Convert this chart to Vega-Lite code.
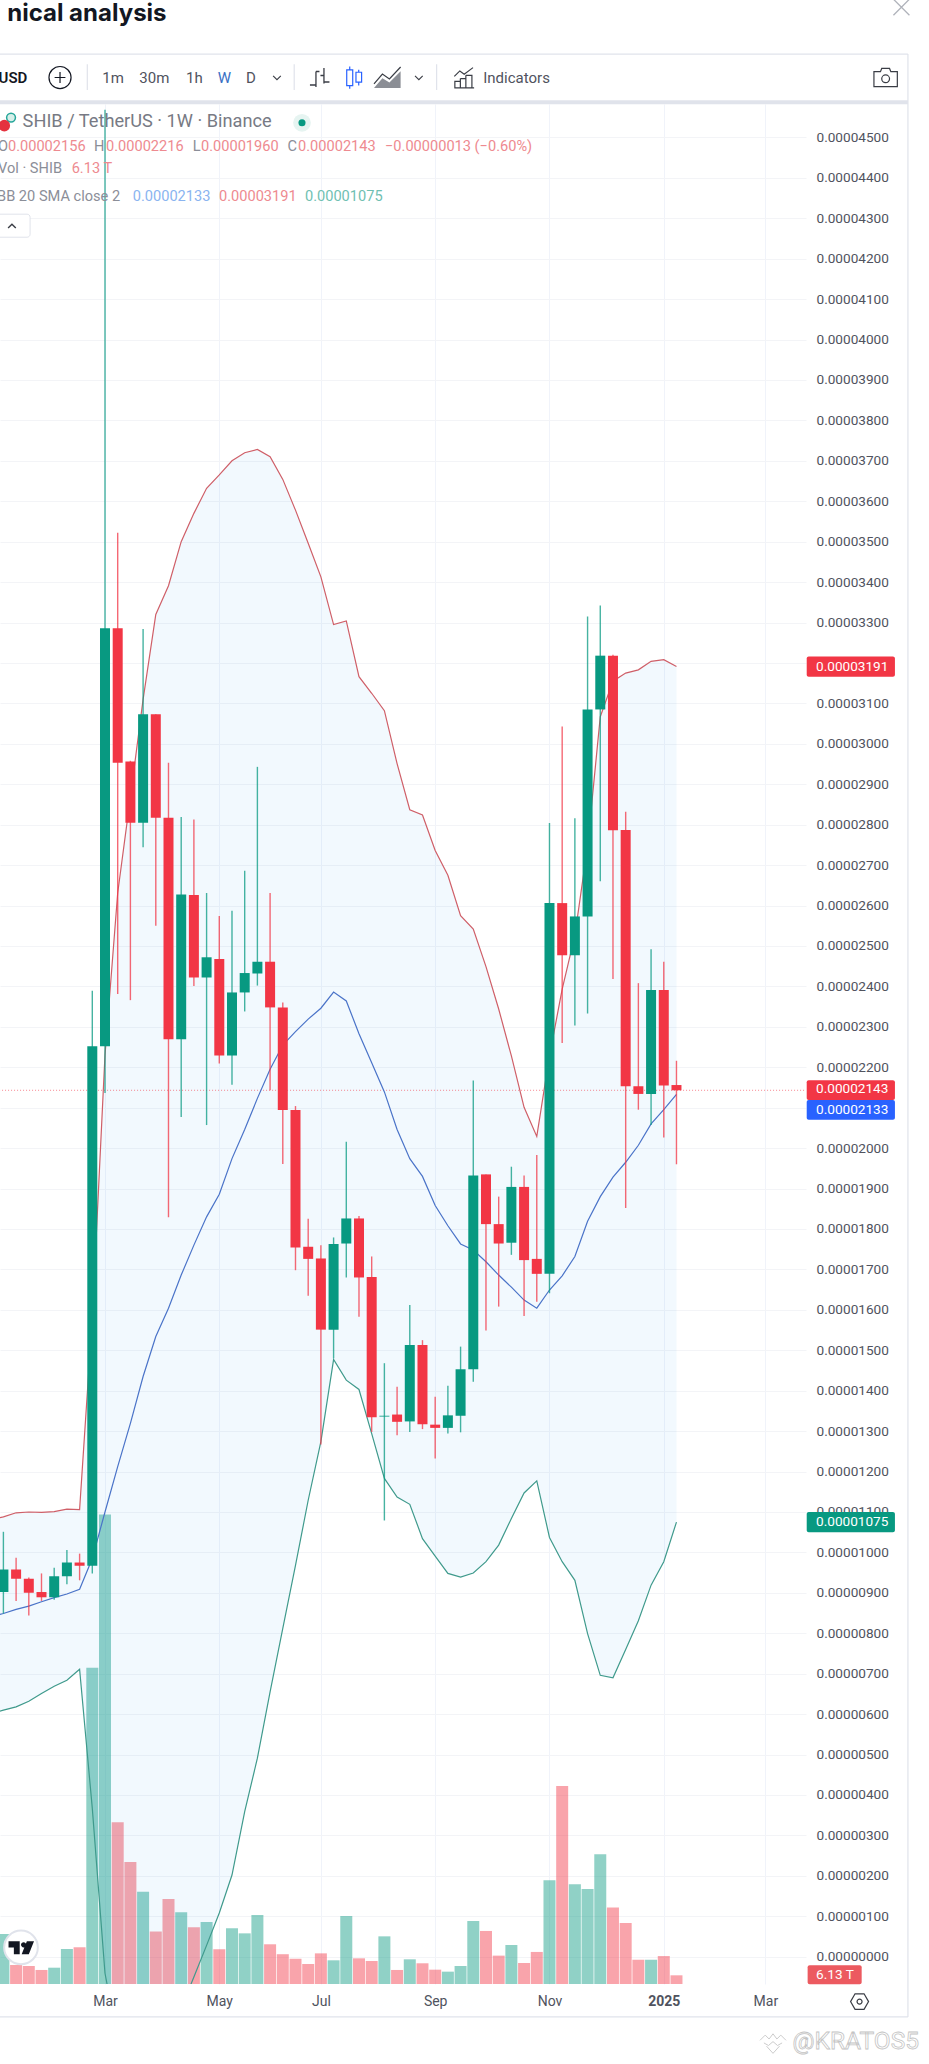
{
  "$schema": "https://vega.github.io/schema/vega-lite/v6.json",
  "width": 806,
  "height": 1880,
  "autosize": {"type": "none"},
  "padding": {"left": 0, "top": 104, "right": 123, "bottom": 80},
  "background": "#ffffff",
  "config": {"view": {"stroke": null}, "font": "Roboto"},
  "datasets": {
    "weeks": [
      {"date":"2024-01-01","bb_mid":0.0000084,"bb_up":0.0000108,"bb_low":0.000006},
      {"date":"2024-01-08","open":0.00000902,"high":0.00001051,"low":0.00000849,"close":0.00000958,"bb_mid":0.00000849,"bb_up":0.00001088,"bb_low":0.0000061,"vol":35.3},
      {"date":"2024-01-15","open":0.00000958,"high":0.00000987,"low":0.0000088,"close":0.00000935,"bb_mid":0.00000859,"bb_up":0.00001098,"bb_low":0.00000618,"vol":13.4},
      {"date":"2024-01-22","open":0.00000935,"high":0.00000938,"low":0.00000844,"close":0.000009,"bb_mid":0.00000867,"bb_up":0.000011,"bb_low":0.00000632,"vol":12.7},
      {"date":"2024-01-29","open":0.00000902,"high":0.00000948,"low":0.0000088,"close":0.00000889,"bb_mid":0.00000878,"bb_up":0.00001099,"bb_low":0.00000651,"vol":9.9},
      {"date":"2024-02-05","open":0.00000889,"high":0.00000962,"low":0.00000883,"close":0.00000941,"bb_mid":0.00000888,"bb_up":0.00001101,"bb_low":0.00000669,"vol":11.5},
      {"date":"2024-02-12","open":0.00000941,"high":0.00001006,"low":0.00000921,"close":0.00000975,"bb_mid":0.00000897,"bb_up":0.00001107,"bb_low":0.00000684,"vol":24.7},
      {"date":"2024-02-19","open":0.00000975,"high":0.00000997,"low":0.00000931,"close":0.00000967,"bb_mid":0.00000909,"bb_up":0.00001106,"bb_low":0.00000711,"vol":25.9},
      {"date":"2024-02-26","open":0.00000967,"high":0.00002389,"low":0.00000948,"close":0.00002252,"bb_mid":0.00000985,"bb_up":0.0000158,"bb_low":0.00000367,"vol":223},
      {"date":"2024-03-04","open":0.00002252,"high":0.00004568,"low":0.00002136,"close":0.00003286,"bb_mid":0.000011,"bb_up":0.0000223,"bb_low":-0.00000041,"vol":331},
      {"date":"2024-03-11","open":0.00003286,"high":0.00003522,"low":0.00002381,"close":0.00002953,"bb_mid":0.00001212,"bb_up":0.00002631,"bb_low":-0.00000207,"vol":114},
      {"date":"2024-03-18","open":0.00002956,"high":0.00002958,"low":0.00002366,"close":0.00002805,"bb_mid":0.00001319,"bb_up":0.00002868,"bb_low":-0.0000023,"vol":86},
      {"date":"2024-03-25","open":0.00002805,"high":0.00003284,"low":0.00002744,"close":0.00003073,"bb_mid":0.00001435,"bb_up":0.0000311,"bb_low":-0.0000024,"vol":65},
      {"date":"2024-04-01","open":0.00003073,"high":0.00003073,"low":0.0000255,"close":0.00002817,"bb_mid":0.00001534,"bb_up":0.0000332,"bb_low":-0.00000252,"vol":37},
      {"date":"2024-04-08","open":0.00002817,"high":0.00002953,"low":0.00001829,"close":0.00002269,"bb_mid":0.00001604,"bb_up":0.00003391,"bb_low":-0.00000183,"vol":60},
      {"date":"2024-04-15","open":0.00002269,"high":0.00002819,"low":0.00002077,"close":0.00002627,"bb_mid":0.00001686,"bb_up":0.000035,"bb_low":-0.00000128,"vol":50.5},
      {"date":"2024-04-22","open":0.00002626,"high":0.00002813,"low":0.00002401,"close":0.00002422,"bb_mid":0.0000176,"bb_up":0.0000357,"bb_low":-0.0000005,"vol":40},
      {"date":"2024-04-29","open":0.00002422,"high":0.00002631,"low":0.00002057,"close":0.00002472,"bb_mid":0.0000183,"bb_up":0.00003632,"bb_low":0.00000028,"vol":43.7},
      {"date":"2024-05-06","open":0.00002468,"high":0.00002574,"low":0.00002209,"close":0.00002229,"bb_mid":0.00001886,"bb_up":0.00003665,"bb_low":0.00000108,"vol":24.5},
      {"date":"2024-05-13","open":0.00002229,"high":0.00002587,"low":0.00002157,"close":0.00002385,"bb_mid":0.00001974,"bb_up":0.000037,"bb_low":0.00000202,"vol":39.3},
      {"date":"2024-05-20","open":0.00002385,"high":0.00002686,"low":0.00002338,"close":0.00002433,"bb_mid":0.00002046,"bb_up":0.0000372,"bb_low":0.00000359,"vol":35.7},
      {"date":"2024-05-27","open":0.00002432,"high":0.00002943,"low":0.00002402,"close":0.00002461,"bb_mid":0.00002123,"bb_up":0.00003728,"bb_low":0.00000491,"vol":48.6},
      {"date":"2024-06-03","open":0.00002461,"high":0.00002631,"low":0.00002143,"close":0.00002348,"bb_mid":0.00002195,"bb_up":0.0000371,"bb_low":0.00000655,"vol":28},
      {"date":"2024-06-10","open":0.00002348,"high":0.0000236,"low":0.00001961,"close":0.00002094,"bb_mid":0.00002255,"bb_up":0.00003654,"bb_low":0.00000812,"vol":21},
      {"date":"2024-06-17","open":0.00002094,"high":0.00002104,"low":0.00001698,"close":0.00001754,"bb_mid":0.00002288,"bb_up":0.00003578,"bb_low":0.00000968,"vol":17.8},
      {"date":"2024-06-24","open":0.00001756,"high":0.00001825,"low":0.00001635,"close":0.00001726,"bb_mid":0.00002319,"bb_up":0.00003496,"bb_low":0.00001129,"vol":14.1},
      {"date":"2024-07-01","open":0.00001727,"high":0.0000176,"low":0.00001267,"close":0.00001551,"bb_mid":0.00002346,"bb_up":0.00003413,"bb_low":0.00001274,"vol":21.6},
      {"date":"2024-07-08","open":0.00001551,"high":0.00001779,"low":0.0000148,"close":0.00001763,"bb_mid":0.00002386,"bb_up":0.00003295,"bb_low":0.00001477,"vol":16.7},
      {"date":"2024-07-15","open":0.00001764,"high":0.00002016,"low":0.0000168,"close":0.00001826,"bb_mid":0.00002364,"bb_up":0.00003304,"bb_low":0.00001426,"vol":47.9},
      {"date":"2024-07-22","open":0.00001826,"high":0.00001832,"low":0.00001583,"close":0.0000168,"bb_mid":0.00002283,"bb_up":0.00003166,"bb_low":0.00001403,"vol":18.1},
      {"date":"2024-07-29","open":0.00001681,"high":0.00001732,"low":0.00001298,"close":0.00001334,"bb_mid":0.00002211,"bb_up":0.00003125,"bb_low":0.00001294,"vol":16.2},
      {"date":"2024-08-05","open":0.00001336,"high":0.00001468,"low":0.00001079,"close":0.00001338,"bb_mid":0.00002139,"bb_up":0.00003082,"bb_low":0.00001183,"vol":33.6},
      {"date":"2024-08-12","open":0.00001341,"high":0.0000141,"low":0.0000129,"close":0.00001323,"bb_mid":0.00002046,"bb_up":0.00002951,"bb_low":0.00001137,"vol":9.9},
      {"date":"2024-08-19","open":0.00001324,"high":0.00001612,"low":0.00001298,"close":0.00001513,"bb_mid":0.00001974,"bb_up":0.00002837,"bb_low":0.00001119,"vol":17.4},
      {"date":"2024-08-26","open":0.00001513,"high":0.00001525,"low":0.00001305,"close":0.00001317,"bb_mid":0.0000193,"bb_up":0.00002824,"bb_low":0.00001034,"vol":14.6},
      {"date":"2024-09-02","open":0.00001316,"high":0.00001385,"low":0.00001232,"close":0.00001308,"bb_mid":0.00001858,"bb_up":0.00002736,"bb_low":0.00000991,"vol":10.1},
      {"date":"2024-09-09","open":0.00001308,"high":0.00001412,"low":0.00001294,"close":0.00001339,"bb_mid":0.00001808,"bb_up":0.00002675,"bb_low":0.00000948,"vol":8.7},
      {"date":"2024-09-16","open":0.00001338,"high":0.00001509,"low":0.00001297,"close":0.00001453,"bb_mid":0.00001763,"bb_up":0.00002575,"bb_low":0.00000939,"vol":12.7},
      {"date":"2024-09-23","open":0.00001453,"high":0.00002167,"low":0.00001422,"close":0.00001932,"bb_mid":0.00001748,"bb_up":0.00002542,"bb_low":0.00000949,"vol":44.4},
      {"date":"2024-09-30","open":0.00001935,"high":0.00001935,"low":0.00001549,"close":0.00001812,"bb_mid":0.00001719,"bb_up":0.00002449,"bb_low":0.00000977,"vol":37.4},
      {"date":"2024-10-07","open":0.00001812,"high":0.0000188,"low":0.00001608,"close":0.00001764,"bb_mid":0.00001686,"bb_up":0.00002344,"bb_low":0.00001018,"vol":20},
      {"date":"2024-10-14","open":0.00001766,"high":0.00001954,"low":0.00001736,"close":0.00001904,"bb_mid":0.00001656,"bb_up":0.00002228,"bb_low":0.00001084,"vol":27.5},
      {"date":"2024-10-21","open":0.00001904,"high":0.00001932,"low":0.00001585,"close":0.00001723,"bb_mid":0.00001624,"bb_up":0.00002101,"bb_low":0.00001147,"vol":14.8},
      {"date":"2024-10-28","open":0.00001726,"high":0.00001983,"low":0.0000162,"close":0.00001689,"bb_mid":0.00001604,"bb_up":0.00002029,"bb_low":0.00001177,"vol":22.6},
      {"date":"2024-11-04","open":0.00001689,"high":0.00002804,"low":0.00001641,"close":0.00002606,"bb_mid":0.00001649,"bb_up":0.00002228,"bb_low":0.00001037,"vol":73.1},
      {"date":"2024-11-11","open":0.00002606,"high":0.00003043,"low":0.0000226,"close":0.00002477,"bb_mid":0.00001684,"bb_up":0.00002393,"bb_low":0.00000977,"vol":139.6},
      {"date":"2024-11-18","open":0.00002477,"high":0.00002816,"low":0.00002303,"close":0.00002573,"bb_mid":0.00001732,"bb_up":0.00002526,"bb_low":0.00000931,"vol":70.3},
      {"date":"2024-11-25","open":0.00002573,"high":0.00003315,"low":0.00002333,"close":0.00003085,"bb_mid":0.00001819,"bb_up":0.00002747,"bb_low":0.00000799,"vol":67},
      {"date":"2024-12-02","open":0.00003085,"high":0.00003342,"low":0.0000266,"close":0.00003218,"bb_mid":0.0000188,"bb_up":0.00003067,"bb_low":0.00000696,"vol":91.4},
      {"date":"2024-12-09","open":0.00003218,"high":0.0000322,"low":0.00002418,"close":0.00002786,"bb_mid":0.00001928,"bb_up":0.00003155,"bb_low":0.0000069,"vol":54},
      {"date":"2024-12-16","open":0.00002787,"high":0.00002832,"low":0.00001852,"close":0.00002153,"bb_mid":0.00001965,"bb_up":0.00003175,"bb_low":0.0000076,"vol":43},
      {"date":"2024-12-23","open":0.00002153,"high":0.00002408,"low":0.00002095,"close":0.00002134,"bb_mid":0.00002007,"bb_up":0.00003183,"bb_low":0.00000831,"vol":17.1},
      {"date":"2024-12-30","open":0.00002134,"high":0.00002492,"low":0.00002057,"close":0.00002391,"bb_mid":0.0000206,"bb_up":0.00003204,"bb_low":0.00000919,"vol":17.1},
      {"date":"2025-01-06","open":0.00002391,"high":0.00002461,"low":0.00002026,"close":0.00002155,"bb_mid":0.00002095,"bb_up":0.00003208,"bb_low":0.00000977,"vol":19.7},
      {"date":"2025-01-13","open":0.00002156,"high":0.00002216,"low":0.0000196,"close":0.00002143,"bb_mid":0.00002133,"bb_up":0.00003191,"bb_low":0.00001075,"vol":6.13}
    ],
    "legend": [
      {"date":"2024-01-18T14:00:00Z","price":0.00004537,"label":"SHIB / TetherUS · 1W · Binance","kind":"name"},
      {"date":"2024-01-05","price":0.00004477,"label":"O","kind":"name"},
      {"date":"2024-01-10T12:00:00Z","price":0.00004477,"label":"0.00002156","kind":"down"},
      {"date":"2024-02-27","price":0.00004477,"label":"H","kind":"name"},
      {"date":"2024-03-04T13:00:00Z","price":0.00004477,"label":"0.00002216","kind":"down"},
      {"date":"2024-04-21T08:00:00Z","price":0.00004477,"label":"L","kind":"name"},
      {"date":"2024-04-25T22:00:00Z","price":0.00004477,"label":"0.00001960","kind":"down"},
      {"date":"2024-06-12T14:00:00Z","price":0.00004477,"label":"C","kind":"name"},
      {"date":"2024-06-18T10:00:00Z","price":0.00004477,"label":"0.00002143","kind":"down"},
      {"date":"2024-08-05T08:00:00Z","price":0.00004477,"label":"−0.00000013 (−0.60%)","kind":"down"},
      {"date":"2024-01-05","price":0.00004421,"label":"Vol · SHIB","kind":"name"},
      {"date":"2024-02-14T15:00:00Z","price":0.00004421,"label":"6.13 T","kind":"down"},
      {"date":"2024-01-04T12:00:00Z","price":0.00004352,"label":"BB 20 SMA close 2","kind":"name"},
      {"date":"2024-03-19T07:00:00Z","price":0.00004352,"label":"0.00002133","kind":"basis"},
      {"date":"2024-05-05T20:00:00Z","price":0.00004352,"label":"0.00003191","kind":"down"},
      {"date":"2024-06-22T05:00:00Z","price":0.00004352,"label":"0.00001075","kind":"lower"}
    ],
    "toolbar": [
      {"date":"2024-03-02T12:00:00Z","price":0.00004648,"label":"1m","kind":"off"},
      {"date":"2024-03-22T22:00:00Z","price":0.00004648,"label":"30m","kind":"off"},
      {"date":"2024-04-17T15:00:00Z","price":0.00004648,"label":"1h","kind":"off"},
      {"date":"2024-05-05T03:00:00Z","price":0.00004648,"label":"W","kind":"on"},
      {"date":"2024-05-20T17:00:00Z","price":0.00004648,"label":"D","kind":"off"},
      {"date":"2024-09-28T12:00:00Z","price":0.00004648,"label":"Indicators","kind":"off"}
    ],
    "badges": [
      {"date":"2025-03-25T19:00:00Z","date2":"2025-05-13T10:00:00Z","top":0.00003216,"bottom":0.00003166,"kind":"upper"},
      {"date":"2025-03-25T19:00:00Z","date2":"2025-05-13T10:00:00Z","top":0.00002168,"bottom":0.00002119,"kind":"close"},
      {"date":"2025-03-25T19:00:00Z","date2":"2025-05-13T10:00:00Z","top":0.00002119,"bottom":0.0000207,"kind":"basis"},
      {"date":"2025-03-25T19:00:00Z","date2":"2025-05-13T10:00:00Z","top":0.000011,"bottom":0.0000105,"kind":"lower"},
      {"date":"2025-03-26T07:00:00Z","date2":"2025-04-25T02:00:00Z","top":-0.00000021,"bottom":-0.00000068,"kind":"volume"}
    ],
    "badgeText": [
      {"date":"2025-03-30T22:00:00Z","price":0.00003191,"label":"0.00003191"},
      {"date":"2025-03-30T22:00:00Z","price":0.00002145,"label":"0.00002143"},
      {"date":"2025-03-30T22:00:00Z","price":0.00002095,"label":"0.00002133"},
      {"date":"2025-03-30T22:00:00Z","price":0.00001075,"label":"0.00001075"},
      {"date":"2025-03-30T22:00:00Z","price":-0.00000045,"label":"6.13 T"}
    ],
    "frame": [
      {"date":"2023-12-30","date2":"2025-05-20T14:00:00Z","top":0.00004706,"bottom":0.00004706},
      {"date":"2023-12-30","date2":"2025-05-20T14:00:00Z","top":-0.00000149,"bottom":-0.00000149},
      {"date":"2025-05-20T14:00:00Z","date2":"2025-05-20T14:00:00Z","top":0.00004706,"bottom":-0.00000149},
      {"date":"2024-02-23T06:00:00Z","date2":"2024-02-23T06:00:00Z","top":0.00004681,"bottom":0.00004617},
      {"date":"2024-06-16T07:00:00Z","date2":"2024-06-16T07:00:00Z","top":0.00004681,"bottom":0.00004617},
      {"date":"2024-09-02T19:00:00Z","date2":"2024-09-02T19:00:00Z","top":0.00004681,"bottom":0.00004617}
    ]
  },
  "data": {"name": "weeks"},
  "encoding": {
    "x": {
      "field": "date",
      "type": "temporal",
      "title": null,
      "scale": {"type": "utc", "padding": 0, "domain": ["2024-01-06T03:00:00Z", "2025-03-25T09:30:00Z"]},
      "axis": {
        "values": ["2024-01-01", "2024-03-04", "2024-05-06", "2024-07-01", "2024-09-02", "2024-11-04", "2025-01-06", "2025-03-03"],
        "labelExpr": "utcmonth(datum.value) == 0 ? utcFormat(datum.value, '%Y') : utcFormat(datum.value, '%b')",
        "labelFontWeight": {"condition": {"test": "utcmonth(datum.value) == 0", "value": "bold"}, "value": "normal"},
        "labelFontSize": 14,
        "labelColor": "#50535e",
        "labelPadding": 10,
        "labelFlush": false,
        "labelOverlap": false,
        "grid": true,
        "gridColor": "#f0f3fa",
        "ticks": false,
        "domain": false
      }
    }
  },
  "layer": [
    {
      "mark": {"type": "bar", "size": 12, "opacity": 0.45},
      "encoding": {
        "y": {"field": "vol", "type": "quantitative", "title": null, "axis": null, "scale": {"domain": [0, 1325.4], "nice": false}},
        "color": {"condition": {"test": "datum.open < datum.close", "value": "#089981"}, "value": "#f23645"}
      }
    },
    {
      "resolve": {"scale": {"color": "independent"}},
      "layer": [
        {
          "mark": {"type": "area", "clip": true, "color": "#2196f3", "opacity": 0.06},
          "encoding": {
            "y": {
              "field": "bb_up",
              "type": "quantitative",
              "title": null,
              "scale": {"domain": [-0.000000675, 0.000045825], "nice": false, "zero": false},
              "axis": {
                "orient": "right",
                "tickCount": 46,
                "labelExpr": "round(datum.value * 1e8) == 3200 || round(datum.value * 1e8) == 2100 ? '' : format(datum.value, '.8f')",
                "labelFontSize": 13.6,
                "labelColor": "#50535e",
                "labelPadding": 10,
                "labelOverlap": false,
                "labelFlush": false,
                "grid": true,
                "gridColor": "#f3f4f7",
                "ticks": false,
                "domain": false
              }
            },
            "y2": {"field": "bb_low"}
          }
        },
        {
          "data": {"values": [{"date": "2023-12-30", "date2": "2025-03-25T09:30:00Z", "price": 0.00002143}]},
          "mark": {"type": "rule", "color": "#f23645", "strokeDash": [1, 2], "opacity": 0.6},
          "encoding": {"x2": {"field": "date2"}, "y": {"field": "price", "type": "quantitative", "title": null}}
        },
        {
          "mark": {"type": "line", "clip": true, "color": "#cf5f68", "strokeWidth": 1.2},
          "encoding": {"y": {"field": "bb_up", "type": "quantitative", "title": null}}
        },
        {
          "mark": {"type": "line", "clip": true, "color": "#4a73c8", "strokeWidth": 1.2},
          "encoding": {"y": {"field": "bb_mid", "type": "quantitative", "title": null}}
        },
        {
          "mark": {"type": "line", "clip": true, "color": "#3f9a8c", "strokeWidth": 1.2},
          "encoding": {"y": {"field": "bb_low", "type": "quantitative", "title": null}}
        },
        {
          "mark": {"type": "rule", "strokeWidth": 1.4, "opacity": 0.75},
          "encoding": {
            "y": {"field": "low", "type": "quantitative", "title": null},
            "y2": {"field": "high"},
            "color": {"condition": {"test": "datum.open < datum.close", "value": "#089981"}, "value": "#f23645"}
          }
        },
        {
          "mark": {"type": "bar", "size": 10},
          "encoding": {
            "y": {"field": "open", "type": "quantitative", "title": null},
            "y2": {"field": "close"},
            "color": {"condition": {"test": "datum.open < datum.close", "value": "#089981"}, "value": "#f23645"}
          }
        },
        {
          "data": {"name": "frame"},
          "mark": {"type": "rule", "color": "#e0e3eb", "strokeWidth": 1.2},
          "encoding": {"x2": {"field": "date2"}, "y": {"field": "top", "type": "quantitative", "title": null}, "y2": {"field": "bottom"}}
        },
        {
          "data": {"values": [{"date": "2023-12-30", "date2": "2025-05-20T14:00:00Z", "top": 0.00004592, "bottom": 0.00004582}]},
          "mark": {"type": "rect", "color": "#e0e3eb"},
          "encoding": {"x2": {"field": "date2"}, "y": {"field": "top", "type": "quantitative", "title": null}, "y2": {"field": "bottom"}}
        },
        {
          "data": {"values": [{"date": "2023-12-30", "date2": "2024-01-22T17:00:00Z", "top": 0.0000431, "bottom": 0.00004253}]},
          "mark": {"type": "rect", "fill": "#ffffff", "stroke": "#e0e3eb", "cornerRadius": 3},
          "encoding": {"x2": {"field": "date2"}, "y": {"field": "top", "type": "quantitative", "title": null}, "y2": {"field": "bottom"}}
        },
        {
          "data": {"name": "badges"},
          "mark": {"type": "rect", "cornerRadius": 2},
          "encoding": {
            "x2": {"field": "date2"},
            "y": {"field": "top", "type": "quantitative", "title": null},
            "y2": {"field": "bottom"},
            "color": {
              "field": "kind",
              "type": "nominal",
              "legend": null,
              "scale": {"domain": ["upper", "close", "basis", "lower", "volume"], "range": ["#f23645", "#f23645", "#2962ff", "#089981", "#ec5a60"]}
            }
          }
        },
        {
          "data": {"name": "badgeText"},
          "mark": {"type": "text", "align": "left", "baseline": "middle", "fontSize": 13.6, "color": "#ffffff"},
          "encoding": {"y": {"field": "price", "type": "quantitative", "title": null}, "text": {"field": "label"}}
        },
        {
          "data": {"name": "legend"},
          "transform": [{"filter": "datum.kind != 'name'"}],
          "mark": {"type": "text", "align": "left", "baseline": "middle", "fontSize": 14.6},
          "encoding": {
            "y": {"field": "price", "type": "quantitative", "title": null},
            "text": {"field": "label"},
            "color": {"field": "kind", "type": "nominal", "legend": null, "scale": {"domain": ["down", "basis", "lower"], "range": ["#ee8a90", "#8ab4f0", "#70bfb2"]}}
          }
        },
        {
          "data": {"name": "legend"},
          "transform": [{"filter": "datum.kind == 'name' && datum.price < 0.000045"}],
          "mark": {"type": "text", "align": "left", "baseline": "middle", "fontSize": 14.6, "color": "#8b8e98"},
          "encoding": {"y": {"field": "price", "type": "quantitative", "title": null}, "text": {"field": "label"}}
        },
        {
          "data": {"name": "legend"},
          "transform": [{"filter": "datum.kind == 'name' && datum.price > 0.000045"}],
          "mark": {"type": "text", "align": "left", "baseline": "middle", "fontSize": 18.2, "color": "#777a84"},
          "encoding": {"y": {"field": "price", "type": "quantitative", "title": null}, "text": {"field": "label"}}
        },
        {
          "data": {"name": "toolbar"},
          "mark": {"type": "text", "align": "left", "baseline": "middle", "fontSize": 15},
          "encoding": {"y": {"field": "price", "type": "quantitative", "title": null}, "text": {"field": "label"}, "color": {"condition": {"test": "datum.kind == 'on'", "value": "#3a6fc4"}, "value": "#50535e"}}
        },
        {
          "data": {"values": [{"date": "2024-04-06T22:00:00Z", "price": 0.00004805, "label": "nical analysis"}]},
          "mark": {"type": "text", "align": "right", "baseline": "middle", "font": "Inter", "fontSize": 24, "fontWeight": 700, "color": "#131722"},
          "encoding": {"y": {"field": "price", "type": "quantitative", "title": null}, "text": {"field": "label"}}
        },
        {
          "data": {"values": [{"date": "2024-01-21T05:00:00Z", "price": 0.00004648, "label": "USD"}]},
          "mark": {"type": "text", "align": "right", "baseline": "middle", "fontSize": 15, "fontWeight": 600, "color": "#131722"},
          "encoding": {"y": {"field": "price", "type": "quantitative", "title": null}, "text": {"field": "label"}}
        },
        {
          "data": {"values": [{"date": "2025-03-18", "price": -0.0000021, "label": "@KRATOS5"}]},
          "mark": {"type": "text", "align": "left", "baseline": "middle", "fontSize": 24.5, "fill": "#ffffff", "stroke": "#c4c4c4", "strokeWidth": 0.8},
          "encoding": {"y": {"field": "price", "type": "quantitative", "title": null}, "text": {"field": "label"}}
        },
        {
          "data": {"values": [{"date": "2025-03-07T05:00:00Z", "price": -0.0000021}]},
          "mark": {"type": "point", "shape": "M-1,-.1 L-.6,-.5 L-.3,-.2 L0,-.6 L.3,-.2 L.6,-.5 L1,-.1 M-.7,.1 L-.35,.3 L0,0 L.35,.3 L.7,.1 M-.5,.35 L0,.9 L.5,.35", "size": 676, "filled": false, "stroke": "#cccccc", "strokeWidth": 1, "opacity": 1},
          "encoding": {"y": {"field": "price", "type": "quantitative", "title": null}}
        },
        {
          "data": {"values": [{"date": "2024-02-08T05:00:00Z", "price": 0.00004648}]},
          "mark": {"type": "point", "shape": "M-.92,0 A.92,.92 0 1 1 .92,0 A.92,.92 0 1 1 -.92,0 Z M-.45,0 L.45,0 M0,-.45 L0,.45", "size": 576, "filled": false, "stroke": "#131722", "strokeWidth": 1.2, "opacity": 1},
          "encoding": {"y": {"field": "price", "type": "quantitative", "title": null}}
        },
        {
          "data": {"values": [{"date": "2024-06-06T19:00:00Z", "price": 0.00004648}, {"date": "2024-08-24", "price": 0.00004648}]},
          "mark": {"type": "point", "shape": "M-.55,-.25 L0,.3 L.55,-.25", "size": 196, "filled": false, "stroke": "#3a3d45", "strokeWidth": 1.1, "opacity": 1},
          "encoding": {"y": {"field": "price", "type": "quantitative", "title": null}}
        },
        {
          "data": {"values": [{"date": "2024-06-30T05:00:00Z", "price": 0.00004648}]},
          "mark": {"type": "point", "shape": "M-.35,-.6 L-.35,.95 M-.95,.75 L-.35,.75 M-.35,-.6 L0,-.6 M.45,-.95 L.45,.6 M.1,-.2 L.45,-.2 M.45,.45 L1,.45", "size": 400, "filled": false, "stroke": "#3a3d45", "strokeWidth": 1.3, "opacity": 1},
          "encoding": {"y": {"field": "price", "type": "quantitative", "title": null}}
        },
        {
          "data": {"values": [{"date": "2024-07-19T05:00:00Z", "price": 0.00004648}]},
          "mark": {"type": "point", "shape": "M-.6,-.64 L-.1,-.64 L-.1,.67 L-.6,.67 Z M-.35,-.92 L-.35,-.64 M-.35,.67 L-.35,.94 M.17,-.44 L.64,-.44 L.64,.39 L.17,.39 Z M.4,-.64 L.4,-.44 M.4,.39 L.4,.67", "size": 576, "filled": false, "stroke": "#2962ff", "strokeWidth": 1.2, "opacity": 1},
          "encoding": {"y": {"field": "price", "type": "quantitative", "title": null}}
        },
        {
          "data": {"values": [{"date": "2024-08-07", "price": 0.00004648}]},
          "mark": {"type": "point", "shape": "M-1,.75 L-.4,.05 L.1,.35 L.9,-.45 L.9,.75 Z", "size": 784, "filled": true, "color": "#777a82", "opacity": 0.85},
          "encoding": {"y": {"field": "price", "type": "quantitative", "title": null}}
        },
        {
          "data": {"values": [{"date": "2024-08-07", "price": 0.00004648}]},
          "mark": {"type": "point", "shape": "M-1,.45 L-.4,-.25 L.1,.1 L.9,-.75", "size": 784, "filled": false, "stroke": "#3a3d45", "strokeWidth": 1.2, "opacity": 1},
          "encoding": {"y": {"field": "price", "type": "quantitative", "title": null}}
        },
        {
          "data": {"values": [{"date": "2024-09-18", "price": 0.00004648}]},
          "mark": {"type": "point", "shape": "M-.9,.95 L.9,.95 M-.85,.95 L-.85,.35 L-.35,.35 L-.35,.95 M-.35,.1 L.15,.1 L.15,.95 M-.35,.35 L-.35,.1 M.15,-.2 L.7,-.2 L.7,.95 M.15,.1 L.15,-.2 M-.9,-.1 L-.4,-.6 L0,-.3 L.8,-.9", "size": 484, "filled": false, "stroke": "#3a3d45", "strokeWidth": 1.2, "opacity": 1},
          "encoding": {"y": {"field": "price", "type": "quantitative", "title": null}}
        },
        {
          "data": {"values": [{"date": "2025-05-08T07:00:00Z", "price": 0.00004648}]},
          "mark": {"type": "point", "shape": "M-.9,-.45 L-.4,-.45 L-.3,-.7 L.3,-.7 L.4,-.45 L.9,-.45 L.9,.7 L-.9,.7 Z M-.3,.1 A.3,.3 0 1 1 .3,.1 A.3,.3 0 1 1 -.3,.1 Z", "size": 676, "filled": false, "stroke": "#3a3d45", "strokeWidth": 1.2, "opacity": 1},
          "encoding": {"y": {"field": "price", "type": "quantitative", "title": null}}
        },
        {
          "data": {"values": [{"date": "2025-04-23T22:00:00Z", "price": -0.00000111}]},
          "mark": {"type": "point", "shape": "M-.9,0 L-.45,-.78 L.45,-.78 L.9,0 L.45,.78 L-.45,.78 Z M-.25,0 A.25,.25 0 1 1 .25,0 A.25,.25 0 1 1 -.25,0 Z", "size": 400, "filled": false, "stroke": "#3a3d45", "strokeWidth": 1.2, "opacity": 1},
          "encoding": {"y": {"field": "price", "type": "quantitative", "title": null}}
        },
        {
          "data": {"values": [{"date": "2025-05-17", "price": 0.00004822}]},
          "mark": {"type": "point", "shape": "M-1,-1 L1,1 M1,-1 L-1,1", "size": 256, "filled": false, "stroke": "#b0b3bb", "strokeWidth": 1.3, "opacity": 1},
          "encoding": {"y": {"field": "price", "type": "quantitative", "title": null}}
        },
        {
          "data": {"values": [{"date": "2024-01-12T17:00:00Z", "price": 0.00004281}]},
          "mark": {"type": "point", "shape": "M-.55,.3 L0,-.25 L.55,.3", "size": 196, "filled": false, "stroke": "#3a3d45", "strokeWidth": 1.4, "opacity": 1},
          "encoding": {"y": {"field": "price", "type": "quantitative", "title": null}}
        },
        {
          "data": {"values": [{"date": "2024-01-17T17:00:00Z", "price": 0.00000023}]},
          "mark": {"type": "point", "shape": "circle", "size": 1134, "filled": true, "fill": "#ffffff", "stroke": "#e0e3eb", "strokeWidth": 2, "opacity": 1},
          "encoding": {"y": {"field": "price", "type": "quantitative", "title": null}}
        },
        {
          "data": {"values": [{"date": "2024-01-17T17:00:00Z", "price": 0.00000023}]},
          "mark": {"type": "point", "shape": "M-.96,-.47 L-.1,-.47 L-.1,.53 L-.55,.53 L-.55,0 L-.96,0 Z M0,-.2 A.2,.2 0 1 1 .4,-.2 A.2,.2 0 1 1 0,-.2 Z M.45,-.47 L1,-.47 L.6,.53 L.05,.53 Z", "size": 676, "filled": true, "color": "#131722", "opacity": 1},
          "encoding": {"y": {"field": "price", "type": "quantitative", "title": null}}
        },
        {
          "data": {"values": [{"date": "2024-01-12T05:00:00Z", "price": 0.00004549}]},
          "mark": {"type": "point", "shape": "circle", "size": 78, "filled": true, "fill": "#d6efe9", "stroke": "#26a69a", "strokeWidth": 1.5, "opacity": 1},
          "encoding": {"y": {"field": "price", "type": "quantitative", "title": null}}
        },
        {
          "data": {"values": [{"date": "2024-01-08T12:00:00Z", "price": 0.00004529}]},
          "mark": {"type": "point", "shape": "circle", "size": 133, "filled": true, "color": "#e5323f", "opacity": 1},
          "encoding": {"y": {"field": "price", "type": "quantitative", "title": null}}
        },
        {
          "data": {"values": [{"date": "2024-06-20T14:00:00Z", "price": 0.00004536}]},
          "mark": {"type": "point", "shape": "circle", "size": 314, "filled": true, "color": "#e6f4f1", "opacity": 1},
          "encoding": {"y": {"field": "price", "type": "quantitative", "title": null}}
        },
        {
          "data": {"values": [{"date": "2024-06-20T14:00:00Z", "price": 0.00004536}]},
          "mark": {"type": "point", "shape": "circle", "size": 50, "filled": true, "color": "#089981", "opacity": 1},
          "encoding": {"y": {"field": "price", "type": "quantitative", "title": null}}
        }
      ]
    }
  ],
  "resolve": {"scale": {"y": "independent"}}
}
